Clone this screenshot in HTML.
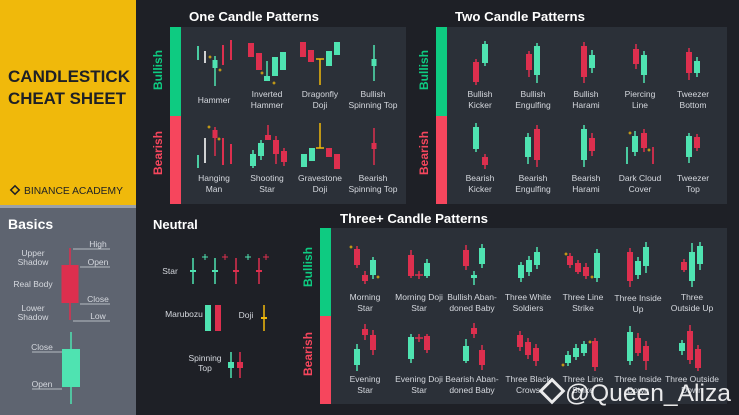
<!DOCTYPE html>
<html><head><meta charset="utf-8"><style>
html,body{margin:0;padding:0;background:#1e2026;}
svg{display:block;font-family:"Liberation Sans",sans-serif;}
</style></head><body>
<svg id="s" width="739" height="415" viewBox="0 0 739 415">
<rect x="0" y="0" width="739" height="415" fill="#1e2026"/>
<rect x="0" y="0" width="136" height="205" fill="#f0b90b"/>
<rect x="0" y="205" width="136" height="3" fill="#9aa0a8"/>
<rect x="0" y="208" width="136" height="207" fill="#5e6470"/>
<text x="8" y="82" font-size="17" font-weight="bold" fill="#1e2026" textLength="122" lengthAdjust="spacingAndGlyphs">CANDLESTICK</text>
<text x="8" y="104" font-size="17" font-weight="bold" fill="#1e2026" textLength="118" lengthAdjust="spacingAndGlyphs">CHEAT SHEET</text>
<g><rect x="12" y="187" width="6" height="6" transform="rotate(45 15 190)" fill="none" stroke="#1e2026" stroke-width="1.5"/></g>
<text x="24" y="194" font-size="10" fill="#1e2026" textLength="99" lengthAdjust="spacingAndGlyphs">BINANCE ACADEMY</text>
<text x="8" y="229" font-size="14" font-weight="bold" fill="#fff">Basics</text>

<!-- panels -->
<rect x="170" y="27" width="236" height="177" fill="#2b3038"/>
<rect x="170" y="27" width="11" height="89" fill="#0ecb81"/>
<rect x="170" y="116" width="11" height="88" fill="#f6465d"/>
<rect x="436" y="27" width="291" height="177" fill="#2b3038"/>
<rect x="436" y="27" width="11" height="89" fill="#0ecb81"/>
<rect x="436" y="116" width="11" height="88" fill="#f6465d"/>
<rect x="320" y="228" width="407" height="176" fill="#2b3038"/>
<rect x="320" y="228" width="11" height="88" fill="#0ecb81"/>
<rect x="320" y="316" width="11" height="88" fill="#f6465d"/>

<text x="189" y="21" font-size="13" font-weight="bold" fill="#fff" textLength="130" lengthAdjust="spacingAndGlyphs">One Candle Patterns</text>
<text x="455" y="21" font-size="13" font-weight="bold" fill="#fff" textLength="130" lengthAdjust="spacingAndGlyphs">Two Candle Patterns</text>
<text x="340" y="223" font-size="13" font-weight="bold" fill="#fff" textLength="148" lengthAdjust="spacingAndGlyphs">Three+ Candle Patterns</text>
<text x="153" y="229" font-size="13" font-weight="bold" fill="#fff">Neutral</text>

<g font-size="12" font-weight="bold">
<text transform="translate(162 70) rotate(-90)" text-anchor="middle" fill="#0ecb81" textLength="40" lengthAdjust="spacingAndGlyphs">Bullish</text>
<text transform="translate(162 153) rotate(-90)" text-anchor="middle" fill="#f6465d" textLength="44" lengthAdjust="spacingAndGlyphs">Bearish</text>
<text transform="translate(428 70) rotate(-90)" text-anchor="middle" fill="#0ecb81" textLength="40" lengthAdjust="spacingAndGlyphs">Bullish</text>
<text transform="translate(428 153) rotate(-90)" text-anchor="middle" fill="#f6465d" textLength="44" lengthAdjust="spacingAndGlyphs">Bearish</text>
<text transform="translate(312 267) rotate(-90)" text-anchor="middle" fill="#0ecb81" textLength="40" lengthAdjust="spacingAndGlyphs">Bullish</text>
<text transform="translate(312 354) rotate(-90)" text-anchor="middle" fill="#f6465d" textLength="44" lengthAdjust="spacingAndGlyphs">Bearish</text>
</g>
<g id="labels" font-size="8.5" fill="#d5d8de" text-anchor="middle"></g>
<g id="marks"></g>
<g opacity="0.9">
<rect x="544" y="383" width="16" height="16" transform="rotate(45 552 391)" fill="none" stroke="#fff" stroke-width="3"/>
<text x="565" y="401" font-size="24" fill="#fff" textLength="166" lengthAdjust="spacingAndGlyphs">@Queen_Aliza</text>
</g>
</svg>
<script>
// candles: [x, high, bodyTop, bodyBottom, low, color, width]
const oneCandle = [
[198,46,46,60,60,'g',1.5],[205,51,51,63,63,'w',1.5],[215,56,60,68,86,'g',5],[223,45,45,65,65,'r',2],[231,40,40,60,60,'r',2],
[251,43,43,57,57,'r',6],[259,53,53,70,70,'r',6],[267,61,76,81,81,'g',6],[275,57,57,76,76,'g',6],[283,52,52,70,70,'g',6],
[303,42,42,57,57,'r',6],[311,50,50,62,62,'r',6],[329,51,51,66,66,'g',6],[337,42,42,55,55,'g',6],
[374,45,59,66,81,'g',5],
[198,155,155,168,168,'g',1.5],[205,138,138,163,163,'w',1.5],[215,127,130,138,156,'r',5],[223,138,138,165,165,'r',2],[231,144,144,164,164,'r',2],
[253,150,154,166,168,'g',6],[261,140,143,156,160,'g',6],[268,125,135,140,140,'r',6],[276,136,140,154,164,'r',6],[284,148,151,162,166,'r',6],
[304,154,154,167,167,'g',6],[312,148,148,161,161,'g',6],[329,148,148,157,157,'r',6],[337,154,154,169,169,'r',6],
[374,128,143,149,165,'r',5]];
const twoCandle = [
[476,59,62,82,85,'r',6],[485,41,44,63,66,'g',6],
[529,51,54,70,77,'r',6],[537,43,46,75,83,'g',6],
[584,42,46,77,83,'r',6],[592,50,55,68,73,'g',6],
[636,44,49,64,69,'r',6],[644,51,55,75,83,'g',6],
[689,48,52,73,80,'r',6],[697,57,61,73,77,'g',6],
[476,123,127,149,152,'g',6],[485,154,157,165,169,'r',6],
[528,133,137,157,164,'g',6],[537,125,129,160,167,'r',6],
[584,125,129,160,167,'g',6],[592,133,138,151,156,'r',6],
[627,147,147,164,164,'g',1.5],[635,131,136,152,156,'g',6],[644,129,133,148,152,'r',6],[653,147,147,164,164,'r',1.5],
[689,133,136,157,163,'g',6],[697,134,137,148,151,'r',6]];
const threeCandle = [
[357,246,249,265,268,'r',6],[365,271,275,281,284,'r',6],[373,257,260,275,279,'g',6],
[411,250,255,276,278,'r',6],[427,259,263,276,278,'g',6],
[466,245,250,266,270,'r',6],[474,271,275,278,285,'g',6],[482,244,248,264,268,'g',6],
[521,262,265,278,282,'g',6],[529,256,260,272,276,'g',6],[537,247,252,265,269,'g',6],
[570,253,256,265,268,'r',6],[578,260,263,272,274,'r',6],[586,263,267,276,279,'r',6],[597,249,253,278,282,'g',6],
[630,248,252,281,287,'r',6],[638,257,261,275,279,'g',6],[646,242,247,266,273,'g',6],
[684,259,262,270,272,'r',6],[692,243,252,281,287,'g',6],[700,242,246,264,270,'g',6],
[357,344,349,365,371,'g',6],[365,324,329,335,340,'r',6],[373,330,335,350,355,'r',6],
[411,334,337,359,363,'g',6],[427,334,336,350,353,'r',6],
[466,339,346,361,363,'g',6],[474,323,328,334,338,'r',6],[482,345,350,365,370,'r',6],
[520,331,335,347,351,'r',6],[528,338,342,355,359,'r',6],[536,344,348,361,366,'r',6],
[568,351,355,363,366,'g',6],[576,344,348,357,360,'g',6],[584,341,344,353,356,'g',6],[595,338,341,367,371,'r',6],
[630,326,332,361,365,'g',6],[638,333,338,353,356,'r',6],[646,341,346,361,370,'r',6],
[682,340,343,351,355,'g',6],[690,325,331,360,364,'r',6],[698,345,349,368,371,'r',6]];
const neutralCandles = [
[193,258,270,272,284,'g',6],[215,258,270,272,284,'g',6],[236,258,270,272,284,'r',6],[259,258,270,272,284,'r',6],
[208,305,305,331,331,'g',6],[218,305,305,331,331,'r',6],[264,305,317,319,331,'y',6],
[231,352,362,368,378,'g',6],[240,352,362,368,378,'r',6],
[70,248,265,303,320,'r',17],[71,332,349,387,404,'g',18]];
// dojis: [x, high, level, low, color]
const dojis = [[320,59,59,85,'y'],[320,123,148,148,'y'],[419,275,275,275,'r'],[419,338,338,338,'r']];
// small plus markers: [x, y, color]
const marks = [[210,57,'y'],[220,70,'y'],[262,73,'y'],[274,83,'y'],[209,127,'y'],[219,139,'y'],
[630,133,'y'],[649,150,'y'],[351,247,'y'],[378,277,'y'],[566,254,'y'],[592,277,'y'],[563,365,'y'],[590,342,'y'],
[205,257,'g'],[225,257,'r'],[248,257,'g'],[266,257,'r']];
const labels = [
[214,103,'Hammer'],[267,97,'Inverted'],[267,108,'Hammer'],[320,97,'Dragonfly'],[320,108,'Doji'],[373,97,'Bullish'],[373,108,'Spinning Top'],
[214,181,'Hanging'],[214,192,'Man'],[267,181,'Shooting'],[267,192,'Star'],[320,181,'Gravestone'],[320,192,'Doji'],[373,181,'Bearish'],[373,192,'Spinning Top'],
[480,97,'Bullish'],[480,108,'Kicker'],[533,97,'Bullish'],[533,108,'Engulfing'],[586,97,'Bullish'],[586,108,'Harami'],[640,97,'Piercing'],[640,108,'Line'],[693,97,'Tweezer'],[693,108,'Bottom'],
[480,181,'Bearish'],[480,192,'Kicker'],[533,181,'Bearish'],[533,192,'Engulfing'],[586,181,'Bearish'],[586,192,'Harami'],[640,181,'Dark Cloud'],[640,192,'Cover'],[693,181,'Tweezer'],[693,192,'Top'],
[365,300,'Morning'],[365,311,'Star'],[419,300,'Morning Doji'],[419,311,'Star'],[472,300,'Bullish Aban-'],[472,311,'doned Baby'],[528,300,'Three White'],[528,311,'Soldiers'],[583,300,'Three Line'],[583,311,'Strike'],[638,301,'Three Inside'],[638,312,'Up'],[692,300,'Three'],[692,311,'Outside Up'],
[365,382,'Evening'],[365,393,'Star'],[419,382,'Evening Doji'],[419,393,'Star'],[472,382,'Bearish Aban-'],[472,393,'doned Baby'],[528,382,'Three Black'],[528,393,'Crows'],[583,382,'Three Line'],[583,393,'Strike'],[638,382,'Three Inside'],[638,393,'Down'],[692,382,'Three Outside'],[692,393,'Down'],
[170,274,'Star'],[184,317,'Marubozu'],[246,318,'Doji'],[205,361,'Spinning'],[205,371,'Top'],
[33,256,'Upper'],[33,265,'Shadow'],[33,287,'Real Body'],[33,311,'Lower'],[33,320,'Shadow']];
// basics side labels: [xText, y, text, lineX1, lineX2]
const basicsLabels = [[98,247,'High',73,110],[98,265,'Open',80,110],[98,302,'Close',80,110],[98,319,'Low',73,110],[42,350,'Close',32,62],[42,387,'Open',32,62]];

const NS='http://www.w3.org/2000/svg';
const col={g:'#4fe3b1',r:'#dd2f4e',y:'#f0b90b',w:'#e8e8e8'};
const g=document.getElementById('marks');
function mk(tag,attrs){const e=document.createElementNS(NS,tag);for(const k in attrs)e.setAttribute(k,attrs[k]);return e;}
function drawCandle(c){
  const [x,hi,t,b,lo,cc,w]=c;
  const grp=mk('g',{});
  
  
  grp.appendChild(mk('line',{x1:x,x2:x,y1:hi,y2:lo,stroke:col[cc],'stroke-width':Math.min(w,2)>1.5?1.5:Math.min(w,1.5)}));
  grp.appendChild(mk('rect',{x:x-w/2,y:t,width:w,height:Math.max(b-t,1),fill:col[cc]}));
  g.appendChild(grp);
}
[oneCandle,twoCandle,threeCandle,neutralCandles].forEach(a=>a.forEach(drawCandle));
dojis.forEach(d=>{
  const [x,hi,lv,lo,cc]=d;
  const grp=mk('g',{stroke:col[cc],'stroke-width':1.5});
  
  
  if(lo>hi) grp.appendChild(mk('line',{x1:x,x2:x,y1:hi,y2:lo}));
  else grp.appendChild(mk('line',{x1:x,x2:x,y1:lv-4,y2:lv+4}));
  grp.appendChild(mk('line',{x1:x-4,x2:x+4,y1:lv,y2:lv}));
  g.appendChild(grp);
});
marks.forEach(m=>{
  const [x,y,cc]=m; const s=cc==='y'?1.5:3;
  const grp=mk('g',{stroke:col[cc],'stroke-width':1});
  
  
  grp.appendChild(mk('line',{x1:x-s,x2:x+s,y1:y,y2:y}));
  grp.appendChild(mk('line',{x1:x,x2:x,y1:y-s,y2:y+s}));
  g.appendChild(grp);
});
const lg=document.getElementById('labels');
labels.forEach(l=>{
  const t=mk('text',{x:l[0],y:l[1]});
  
  
  t.textContent=l[2]; lg.appendChild(t);
});
basicsLabels.forEach(l=>{
  const [x,y,txt,x1,x2]=l;
  const t=mk('text',{x:x,y:y});
  
  
  t.textContent=txt; lg.appendChild(t);
  const ln=mk('line',{x1:x1,x2:x2,y1:y+2,y2:y+2,stroke:'#d5d8de','stroke-width':0.8});
  
  
  lg.appendChild(ln);
});
</script>
</body></html>
